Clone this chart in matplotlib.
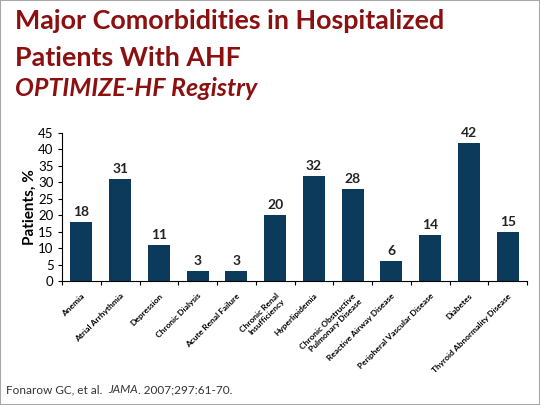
import numpy as np
import matplotlib
matplotlib.use("Agg")
import matplotlib.pyplot as plt

plt.rcParams['font.family'] = ['Lato', 'DejaVu Sans']

categories = ["Anemia", "Atrial Arrhythmia", "Depression", "Chronic Dialysis",
              "Acute Renal Failure", "Chronic Renal\nInsufficiency", "Hyperlipidemia",
              "Chronic Obstructive\nPulmonary Disease", "Reactive Airway Disease",
              "Peripheral Vascular Disease", "Diabetes", "Thyroid Abnormality Disease"]
values = [18, 31, 11, 3, 3, 20, 32, 28, 6, 14, 42, 15]
yticks = list(range(0, 50, 5))

bar_color = "#0b3a5a"
title_color = "#8c1010"

fig = plt.figure(figsize=(5.4, 4.05), dpi=100)
fig.patch.set_facecolor("white")

# thin grey frame around the slide
fig.add_artist(plt.Rectangle((0, 0), 1, 1, transform=fig.transFigure,
                             fill=False, edgecolor="#a8a8a8", lw=1.5))

fig.text(15 / 540, 1 - 29 / 405, "Major Comorbidities in Hospitalized", color=title_color,
         fontsize=19.4, fontweight="bold", va="baseline")
fig.text(15 / 540, 1 - 66 / 405, "Patients With AHF", color=title_color,
         fontsize=19.4, fontweight="bold", va="baseline")
fig.text(15 / 540, 1 - 96 / 405, "OPTIMIZE-HF Registry", color=title_color,
         fontsize=18, fontweight="bold", style="italic", va="baseline")

ax = fig.add_axes([62 / 540, 1 - 281 / 405, (527 - 62) / 540, (281 - 133) / 405])
x = np.arange(len(categories))
bars = ax.bar(x, values, width=0.57, color=bar_color)
for xi, v in zip(x, values):
    ax.text(xi, v + 1.2, str(v), ha="center", va="bottom", fontsize=10,
            fontweight="bold", color="#222222")

ax.set_xlim(-0.5, len(categories) - 0.5)
ax.set_ylim(0, 45)
ax.set_yticks(yticks)
ax.tick_params(axis="y", labelsize=9.5, length=3, direction="out", pad=3)
ax.set_ylabel("Patients, %", fontsize=11, fontweight="bold", labelpad=1)

ax.set_xticks(np.arange(len(categories) + 1) - 0.5, minor=False)
ax.set_xticklabels([])
ax.tick_params(axis="x", length=3, direction="out")
ax.set_xticks(x, minor=True)
ax.set_xticklabels(categories, minor=True, rotation=45, ha="right",
                   rotation_mode="anchor", fontsize=6, fontweight="bold",
                   linespacing=1.1)
ax.tick_params(axis="x", which="minor", length=0, pad=8)

for s in ["top", "right"]:
    ax.spines[s].set_visible(False)

# footer citation, pieces placed one after another
renderer = fig.canvas.get_renderer()
xpos = 6
for txt, st in [("Fonarow GC, et al.  ", "normal"), ("JAMA", "italic"),
                (". 2007;297:61-70.", "normal")]:
    t = fig.text(xpos / 540, 1 - 393 / 405, txt, fontsize=8.5, style=st,
                 color="#333333", va="baseline")
    xpos += t.get_window_extent(renderer).width

fig.savefig("out.png", dpi=100)
